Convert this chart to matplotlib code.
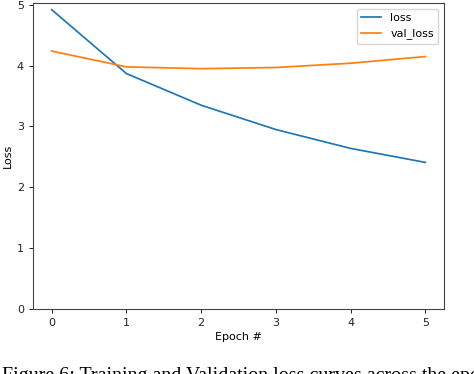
import matplotlib
matplotlib.use("Agg")
import matplotlib.pyplot as plt

epochs = [0, 1, 2, 3, 4, 5]
loss = [4.92, 3.87, 3.35, 2.95, 2.64, 2.41]
val_loss = [4.24, 3.98, 3.95, 3.97, 4.04, 4.15]
x_ticks = [0, 1, 2, 3, 4, 5]
y_ticks = [0, 1, 2, 3, 4, 5]
caption = "Figure 6: Training and Validation loss curves across the epochs"

W, H = 474, 374
fig = plt.figure(figsize=(W / 100, H / 100), dpi=100)
ax = fig.add_axes([33 / W, (H - 309) / H, (444 - 33) / W, (309 - 3) / H])

ax.plot(epochs, loss, color="#1f77b4", lw=1.25, label="loss")
ax.plot(epochs, val_loss, color="#ff7f0e", lw=1.25, label="val_loss")

ax.set_ylim(0, 5.03)
ax.set_xticks(x_ticks)
ax.set_yticks(y_ticks)
ax.tick_params(labelsize=8, length=3, width=0.7, colors="#222222")
for s in ax.spines.values():
    s.set_linewidth(0.8)
    s.set_color("#444444")
ax.set_xlabel("Epoch #", fontsize=8, labelpad=3)
ax.set_ylabel("Loss", fontsize=8, labelpad=3)
ax.legend(loc="upper right", fontsize=8, handlelength=1.8)

fig.text(2 / W, -7 / H, caption, fontsize=14.4, family="Liberation Serif",
         ha="left", va="baseline")

fig.savefig("out.png", dpi=100)
